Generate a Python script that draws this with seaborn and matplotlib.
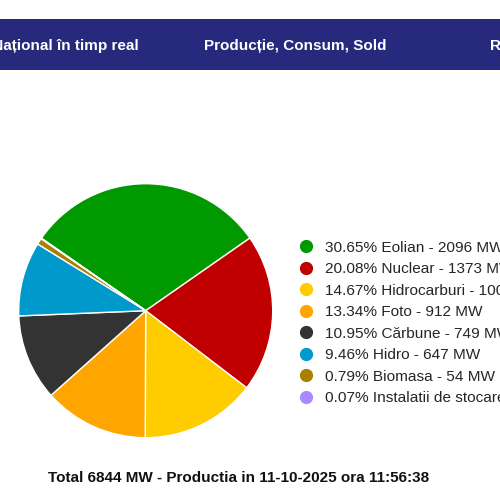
#!/usr/bin/env python3

import matplotlib
matplotlib.use("Agg")
import matplotlib.pyplot as plt
from matplotlib.lines import Line2D
from matplotlib.patches import Rectangle
import seaborn as sns

sources = ["Eolian", "Nuclear", "Hidrocarburi", "Foto", "Cărbune", "Hidro", "Biomasa", "Instalatii de stocare"]
power_mw = [2096, 1373, 1004, 912, 749, 647, 54, 5]
shares = [30.65, 20.08, 14.67, 13.34, 10.95, 9.46, 0.79, 0.07]
colors = ["#009900", "#c00000", "#ffcc00", "#ffa500", "#333333", "#0099cc", "#aa8000", "#aa88ff"]
menu_left = "Sistemul Național în timp real"
menu_mid = "Producție, Consum, Sold"
menu_right = "Rapoarte"
footer = "Total 6844 MW - Productia in 11-10-2025 ora 11:56:38"

sns.set_theme(style="white")
plt.rcParams["font.family"] = ["Liberation Sans", "DejaVu Sans"]
palette = sns.color_palette(colors)

fig = plt.figure(figsize=(5, 5), dpi=100)

# header band, everything in pixel fractions of the figure
fig.add_artist(Rectangle((0, 1 - 70 / 500), 1, 51 / 500, transform=fig.transFigure,
                         facecolor="#26297c", edgecolor="none"))
fig.text(139 / 500, 1 - 46 / 500, menu_left, color="white", fontsize=11, weight="bold",
         ha="right", va="center")
fig.text(204 / 500, 1 - 46 / 500, menu_mid, color="white", fontsize=11, weight="bold",
         ha="left", va="center")
fig.text(490 / 500, 1 - 46 / 500, menu_right, color="white", fontsize=11, weight="bold",
         ha="left", va="center")

# pie
radius = 127
cx, cy = 145.7, 310.7
ax = fig.add_axes([(cx - radius) / 500, 1 - (cy + radius) / 500, 2 * radius / 500, 2 * radius / 500])
ax.pie(power_mw, colors=palette, startangle=145.2, counterclock=False, radius=1,
       wedgeprops={"edgecolor": "white", "linewidth": 1})
ax.set_xlim(-1, 1)
ax.set_ylim(-1, 1)

# legend runs off the right edge like the original
handles = [Line2D([], [], linestyle="none", marker="o", markersize=8.5, color=c) for c in palette]
labels = [f"{p:.2f}% {s} - {m} MW" for p, s, m in zip(shares, sources, power_mw)]
fig.legend(handles, labels, loc="upper left", bbox_to_anchor=(298 / 500, 1 - 240.5 / 500),
           frameon=False, fontsize=11.07, labelspacing=0.49, handlelength=1.0,
           handletextpad=0.75, borderaxespad=0, borderpad=0)

fig.text(239 / 500, 1 - 478.5 / 500, footer, color="#111111", fontsize=10.98, weight="bold",
         ha="center", va="center")

fig.savefig("out.png", dpi=100)
